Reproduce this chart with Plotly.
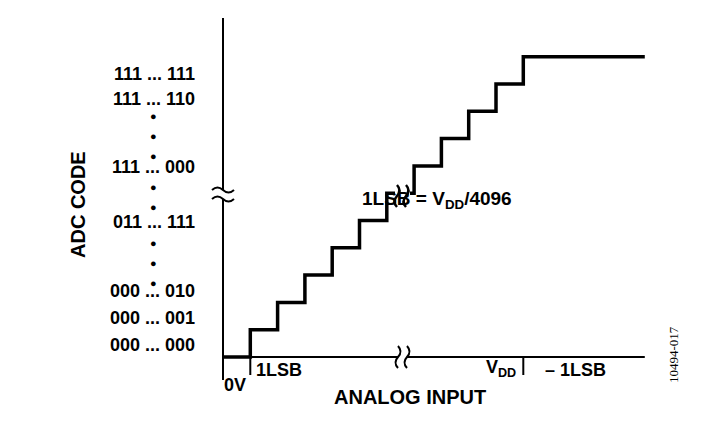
import plotly.graph_objects as go

# transfer function: code level n begins at input n LSB (break after code 6)
codes = list(range(12))           # 0 .. 11 drawn steps
transitions = list(range(1, 12))  # in LSB
x_end = 15.45
code_labels = ["111 ... 111", "111 ... 110", "111 ... 000", "011 ... 111",
               "000 ... 010", "000 ... 001", "000 ... 000"]
code_label_y = [62, 87, 167, 222, 303, 330, 357]  # pixel rows of labels

W, H = 720, 435
OFF = 8
X0, Y0, U = 223, 357, 27.3
def dx(p): return (p - X0) / U
def dy(p): return (Y0 - p) / U

xs, ys = [0], [0]
for t, c in zip(transitions, codes[1:]):
    xs += [t, t]; ys += [c - 1, c]
xs.append(x_end); ys.append(codes[-1])

fig = go.Figure()
fig.add_trace(go.Scatter(x=xs, y=ys, mode="lines", line=dict(color="black", width=3.5),
                         hoverinfo="skip", showlegend=False))
F = dict(family="Liberation Sans, Arial", size=18, color="black")
fig.update_layout(width=W, height=H, margin=dict(l=0, r=0, t=0, b=0),
                  plot_bgcolor="white", paper_bgcolor="white",
                  xaxis=dict(range=[dx(OFF), dx(W + OFF)], visible=False, fixedrange=True),
                  yaxis=dict(range=[dy(H + OFF), dy(OFF)], visible=False, fixedrange=True))
BK = dict(color="black", width=2)
fig.add_shape(type="line", x0=0, x1=0, y0=dy(380), y1=dy(18), line=BK)
fig.add_shape(type="line", x0=0, x1=x_end, y0=0, y1=0, line=BK)
for t in [1, 11]:
    fig.add_shape(type="line", x0=t, x1=t, y0=0, y1=dy(375), line=BK)

def P(x, y): return "%.4f,%.4f" % (dx(x), dy(y))
def tilde_h(x, y, a=11, b=5):
    return "M%s Q%s %s Q%s %s" % (P(x - a, y), P(x - a / 2, y - b), P(x, y), P(x + a / 2, y + b), P(x + a, y))
def tilde_v(x, y, a=11, b=5):
    return "M%s Q%s %s Q%s %s" % (P(x, y + a), P(x - b, y + a / 2), P(x, y), P(x + b, y - a / 2), P(x, y - a))
def white(x0, x1, y0, y1):
    fig.add_shape(type="rect", x0=dx(x0), x1=dx(x1), y0=dy(y0), y1=dy(y1),
                  fillcolor="white", line=dict(width=0))
white(218, 228, 190, 199)
for yy in [190, 199]:
    fig.add_shape(type="path", path=tilde_h(223, yy), line=BK)
white(398, 407, 345, 369)
for xx in [398, 407]:
    fig.add_shape(type="path", path=tilde_v(xx, 357), line=BK)
white(395, 410, 180, 208)
for xx in [397, 406]:
    fig.add_shape(type="path", path=tilde_v(xx, 196), line=dict(color="black", width=2.5))

def ann(text, x, y, **kw):
    d = dict(text=text, x=(x - OFF) / W, y=1 - (y - OFF) / H, xref="paper", yref="paper",
             showarrow=False, font=F)
    d.update(kw)
    fig.add_annotation(**d)

for lab, py in zip(code_labels, code_label_y):
    ann("<b>%s</b>" % lab, 197, py, xanchor="right")
for py in [108, 128, 148, 187, 207, 243, 263, 283]:
    ann("●", 148, py, font=dict(F, size=11))
ann("<b>ADC CODE</b>", 65, 205, textangle=-90, font=dict(F, size=20))
ann("<b>0V</b>", 222, 397)
ann("<b>1LSB</b>", 279, 382)
ann("<b>V<sub>DD</sub></b>", 518, 382)
ann("<b>– 1LSB</b>", 543, 382, xanchor="left")
ann("<b>ANALOG INPUT</b>", 410, 410, font=dict(F, size=20))
ann("<b>1LSB = V<sub>DD</sub>/4096</b>", 514, 200, font=dict(F, size=19))
ann("10494-017", 683, 385, textangle=-90,
    font=dict(family="Liberation Serif", size=13, color="black"))

fig.write_html("out.html")
